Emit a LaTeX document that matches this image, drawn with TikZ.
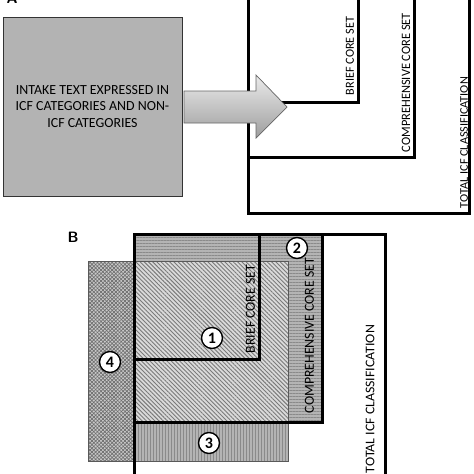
\documentclass[tikz,border=0pt]{standalone}
\usepackage{fontspec}
\setmainfont{Carlito}
\usetikzlibrary{patterns.meta}
\newcommand{\fitlabel}[3]{\resizebox{#1}{#2}{#3}}
\definecolor{boxgray}{HTML}{B3B3B3}
\definecolor{hatchbg}{HTML}{DADADA}
\definecolor{hatchfg}{HTML}{7A7A7A}
\definecolor{hzbg}{HTML}{B4B4B4}
\definecolor{hzfg}{HTML}{8A8A8A}
\definecolor{xbg}{HTML}{CACACA}
\definecolor{xfg}{HTML}{6E6E6E}
\tikzset{
  thickline/.style={line width=3pt, line join=miter, line cap=rect},
  setlabel/.style={rotate=90, inner sep=0pt, anchor=center},
  numcircle/.style={circle, draw, line width=1.4pt, fill=white, minimum size=21pt, inner sep=0pt, font=\bfseries\fontsize{16}{16}\selectfont},
  panellabel/.style={font=\sffamily\bfseries\fontsize{15}{15}\selectfont, inner sep=0pt},
}
\begin{document}
\begin{tikzpicture}[x=1pt,y=-1pt]
\useasboundingbox (0,0) rectangle (474,474);
% ---------------- Panel A ----------------
\node[panellabel, anchor=south] (labA) at (12,4) {A};
\node[draw=black!80, line width=0.8pt, fill=boxgray, minimum width=179pt, minimum height=179pt, inner sep=0pt,
      align=center, font=\fontsize{13.9}{16.5}\selectfont] (intakeA) at (92.5,106.5)
  {INTAKE TEXT EXPRESSED IN\\ICF CATEGORIES AND NON-\\ICF CATEGORIES};
% L shapes
\draw[thickline] (248,-6) -- (248,213) -- (469,213) -- (469,-6);
\draw[thickline] (248,157) -- (414,157) -- (414,-6);
\draw[thickline] (248,102) -- (358,102) -- (358,-6);
\node[setlabel] (briefA) at (350,56) {\fitlabel{78pt}{8pt}{BRIEF CORE SET}};
\node[setlabel] (compA) at (406,82.5) {\fitlabel{139pt}{8.3pt}{COMPREHENSIVE CORE SET}};
\node[setlabel] (totalA) at (464,142.5) {\fitlabel{131pt}{7.6pt}{TOTAL ICF CLASSIFICATION}};
% arrow
\shade[draw=black!60, line width=0.7pt, top color=black!8, bottom color=black!38]
  (184,91) -- (256,91) -- (256,75) -- (287,107) -- (256,138) -- (256,123) -- (184,123) -- cycle;
% ---------------- Panel B ----------------
\node[panellabel] (labB) at (73,237) {B};
% region 2 (comprehensive core set area)
\fill[hzbg] (134,234) rectangle (322,422);
\fill[pattern={Lines[angle=0,distance=3pt,line width=0.9pt]}, pattern color=hzfg] (134,234) rectangle (322,422);
% region 4
\fill[xbg] (88,261) rectangle (134,461);
\fill[pattern={Lines[angle=45,distance=2.6pt,line width=0.7pt]}, pattern color=xfg] (88,261) rectangle (134,461);
\fill[pattern={Lines[angle=-45,distance=2.6pt,line width=0.7pt]}, pattern color=xfg] (88,261) rectangle (134,461);
% region 1
\fill[hatchbg] (134,261) rectangle (288,422);
\fill[pattern={Lines[angle=-45,distance=3pt,line width=0.9pt]}, pattern color=hatchfg] (134,261) rectangle (288,422);
% region 3
\fill[hzbg] (134,422) rectangle (288,461);
\fill[pattern={Lines[angle=90,distance=3pt,line width=0.9pt]}, pattern color=hzfg] (134,422) rectangle (288,461);
% intake square border
\node[draw=black!65, line width=0.9pt, minimum width=200pt, minimum height=200pt, inner sep=0pt] (intakeB) at (188,361) {};
% set boundaries
\draw[thickline] (134,480) -- (134,234) -- (385,234) -- (385,480);
\draw[thickline] (134,422) -- (322,422) -- (322,234);
\draw[thickline] (134,359) -- (259,359) -- (259,234);
\node[setlabel] (briefB) at (250.5,309) {\fitlabel{88pt}{9pt}{BRIEF CORE SET}};
\node[setlabel] (compB) at (309.5,335.5) {\fitlabel{155pt}{9pt}{COMPREHENSIVE CORE SET}};
\node[setlabel] (totalB) at (370,399) {\fitlabel{148pt}{8.6pt}{TOTAL ICF CLASSIFICATION}};
% numbers
\node[numcircle] (n1) at (212,338) {1};
\node[numcircle] (n2) at (297,248) {2};
\node[numcircle] (n3) at (209,443) {3};
\node[numcircle] (n4) at (110,362) {4};
\end{tikzpicture}
\end{document}
